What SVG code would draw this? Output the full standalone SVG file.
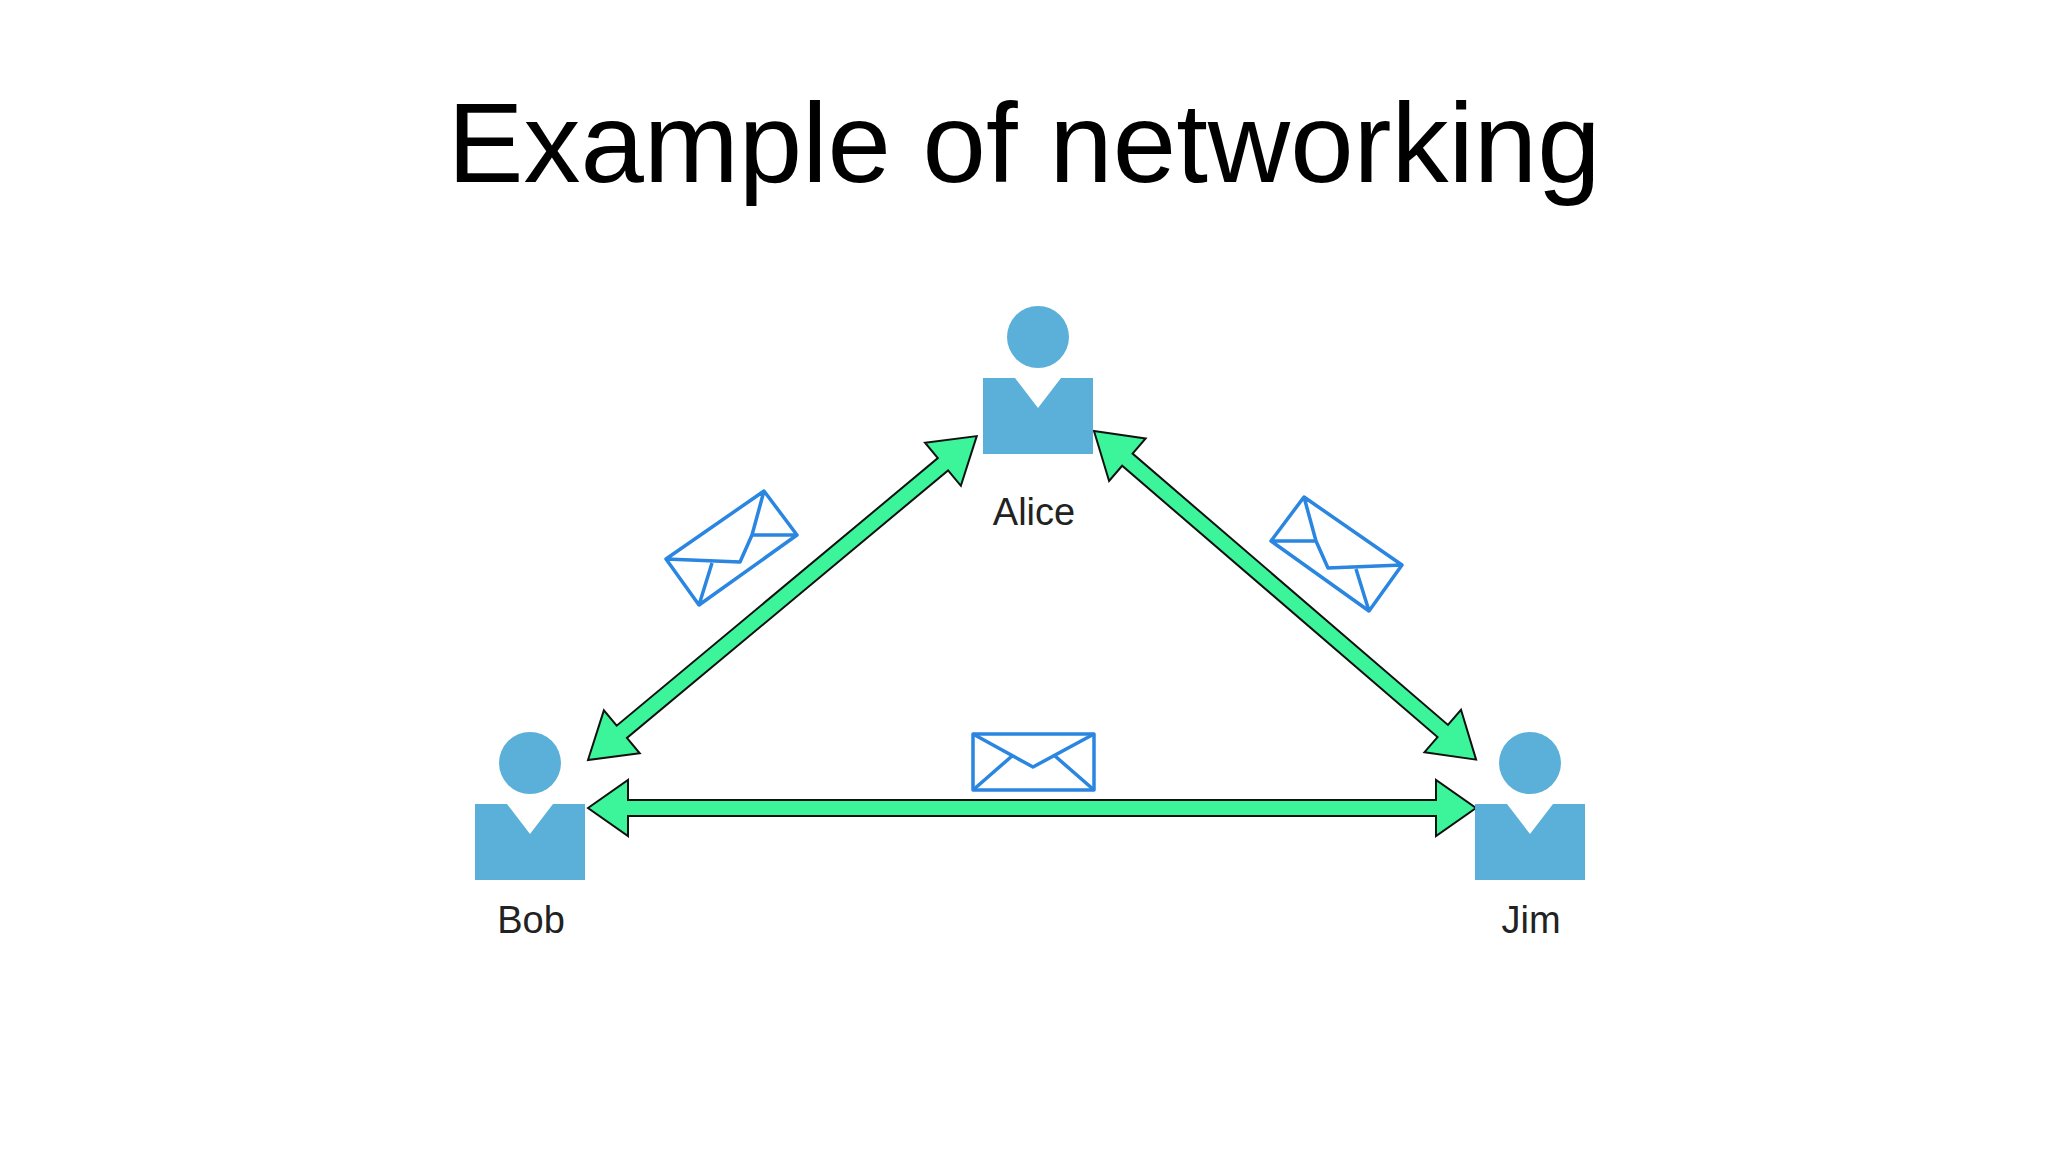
<svg xmlns="http://www.w3.org/2000/svg" width="2048" height="1152" viewBox="0 0 2048 1152">
<style>
.p{fill:#5ab0d8}
.lbl{font-family:"Liberation Sans",Arial,sans-serif;font-size:38px;fill:#222;text-anchor:middle}
.env{fill:none;stroke:#2a86e0;stroke-width:3.5;stroke-linejoin:round}
.arr{fill:#3cf59a;stroke:#111;stroke-width:2;stroke-linejoin:miter}
</style>
<defs>
<g id="person"><circle cx="0" cy="0" r="31" class="p"/><path class="p" d="M-55,41 H-23 L0,71 L23,41 H55 V117 H-55 Z"/></g>
<g id="env"><path class="env" d="M666,559 L764,491 L797,535 L699,605 Z M666,559 L740,562 L752,535 L797,535 M752,535 L764,491 M712,563 L699,605"/></g>
</defs>
<rect width="2048" height="1152" fill="#fff"/>
<text x="1024" y="182" font-family="Liberation Sans,Arial,sans-serif" font-size="114" text-anchor="middle" fill="#000">Example of networking</text>
<g id="connectors">
<polygon class="arr" transform="translate(588,760) rotate(-39.8)" points="0,0 44,-28 44,-8 462,-8 462,-28 506,0 462,28 462,8 44,8 44,28"/>
<polygon class="arr" transform="translate(1094,431) rotate(40.7)" points="0,0 44,-28 44,-8 460,-8 460,-28 504,0 460,28 460,8 44,8 44,28"/>
<polygon class="arr" transform="translate(588,808)" points="0,0 40,-28 40,-8 848,-8 848,-28 888,0 848,28 848,8 40,8 40,28"/>
</g>
<g id="env1"><use href="#env"/></g>
<g id="env2"><use href="#env" transform="translate(2068,6) scale(-1,1)"/></g>
<g id="env3"><rect class="env" x="973" y="734" width="121" height="56"/><path class="env" d="M973,734 L1033,767 L1094,734 M973,790 L1012,756 M1094,790 L1055,756"/></g>
<g id="alice"><use href="#person" transform="translate(1038,337)"/><text class="lbl" x="1034" y="525">Alice</text></g>
<g id="bob"><use href="#person" transform="translate(530,763)"/><text class="lbl" x="531" y="933">Bob</text></g>
<g id="jim"><use href="#person" transform="translate(1530,763)"/><text class="lbl" x="1531" y="933">Jim</text></g>
</svg>
